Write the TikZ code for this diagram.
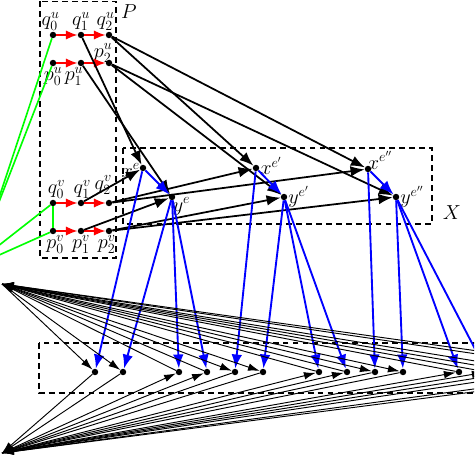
\documentclass[tikz,border=0pt]{standalone}
\usetikzlibrary{arrows.meta}
\tikzset{
  vtx/.style={circle,fill=black,inner sep=0pt,minimum size=5.5pt},
  lbl/.style={font=\fontsize{17}{19}\selectfont,inner sep=0.5pt},
  boxline/.style={line width=1.2pt,dash pattern=on 5pt off 3.5pt},
  redarr/.style={red,line width=1.5pt,-{Latex[length=10pt,width=8pt]}},
  blkarr/.style={line width=1.5pt,-{Latex[length=12pt,width=9pt]}},
  bluearr/.style={blue,line width=1.6pt,-{Latex[length=12pt,width=9pt]}},
  fanarr/.style={line width=0.8pt,-{Latex[length=10pt,width=6.5pt]}},
  greenline/.style={green,line width=1.4pt}
}
\begin{document}
\begin{tikzpicture}[x=0.3mm,y=-0.3mm]
  \useasboundingbox (0,0) rectangle (474,474);
  \clip (0,0) rectangle (474,474);

  % dashed boxes
  \draw[boxline] (40,1.5) rectangle (116,258);
  \node[lbl] (plabel) at (129,12) {$P$};
  \draw[boxline] (123,148) rectangle (432,224);
  \node[lbl] (xlabel) at (452,213) {$X$};
  \draw[boxline] (39,343) rectangle (1000,393);

  % the two paths of u and v
  \node[vtx,label={[lbl,xshift=-2pt]above:$q_0^u$}] (qu0) at (53,35) {};
  \node[vtx,label={[lbl]above:$q_1^u$}] (qu1) at (81,35) {};
  \node[vtx,label={[lbl,xshift=-3pt]above:$q_2^u$}] (qu2) at (109,35) {};
  \node[vtx,label={[lbl]below:$p_0^u$}] (pu0) at (53,63) {};
  \node[vtx,label={[lbl,xshift=-6pt]below:$p_1^u$}] (pu1) at (81,63) {};
  \node[vtx,label={[lbl,xshift=-5pt,yshift=-3pt]above:$p_2^u$}] (pu2) at (109,63) {};

  \node[vtx,label={[lbl,xshift=3pt]above:$q_0^v$}] (qv0) at (53,203) {};
  \node[vtx,label={[lbl,xshift=1pt]above:$q_1^v$}] (qv1) at (81,203) {};
  \node[vtx,label={[lbl,xshift=-5pt,yshift=4pt]above:$q_2^v$}] (qv2) at (109,203) {};
  \node[vtx,label={[lbl,xshift=2pt]below:$p_0^v$}] (pv0) at (53,231) {};
  \node[vtx,label={[lbl]below:$p_1^v$}] (pv1) at (81,231) {};
  \node[vtx,label={[lbl,xshift=-2pt]below:$p_2^v$}] (pv2) at (109,231) {};

  \foreach \s in {u,v} {
    \draw[redarr] (q\s0) -- (q\s1);
    \draw[redarr] (q\s1) -- (q\s2);
    \draw[redarr] (p\s0) -- (p\s1);
    \draw[redarr] (p\s1) -- (p\s2);
  }

  % green edges to the left
  \coordinate (gu) at (-10,225);
  \coordinate (gv) at (-30,268);
  \draw[greenline] (qu0) -- (gu);
  \draw[greenline] (pu0) -- (gu);
  \draw[greenline] (qv0) -- (gv);
  \draw[greenline] (pv0) -- (gv);
  \draw[greenline] (qv0) -- (pv0);

  % edge gadgets in X
  \node[vtx,label={[lbl,label distance=-1pt,yshift=-2pt]left:$x^{e}$}] (xe0) at (143,168) {};
  \node[vtx,label={[lbl,label distance=-3pt]below right:$y^{e}$}] (ye0) at (172,197) {};
  \node[vtx,label={[lbl,yshift=2pt]right:$x^{e'}$}] (xe1) at (256,168) {};
  \node[vtx,label={[lbl]right:$y^{e'}$}] (ye1) at (284,197) {};
  \node[vtx,label={[lbl,label distance=-4pt]above right:$x^{e''}$}] (xe2) at (368,169) {};
  \node[vtx,label={[lbl]right:$y^{e''}$}] (ye2) at (396,197) {};

  \foreach \a/\b in {qu1/xe0,pu1/ye0,qu2/xe1,qu2/xe2,pu2/ye1,pu2/ye2,
                     qv1/xe0,pv1/ye0,qv2/xe1,qv2/xe2,pv2/ye1,pv2/ye2}
    \draw[blkarr] (\a) -- (\b);

  % bottom row
  \foreach \k in {1,2,4,5,6,7,9,10,11,12,14,15,16,17,19,20}
    \node[vtx] (b\k) at ({95+28*(\k-1)},372) {};

  \foreach \g/\k in {0/1,1/6,2/11} {
    \draw[bluearr] (xe\g) -- (ye\g);
    \draw[bluearr] (xe\g) -- (b\k);
    \pgfmathtruncatemacro{\ka}{\k+1}
    \pgfmathtruncatemacro{\kb}{\k+3}
    \pgfmathtruncatemacro{\kc}{\k+4}
    \draw[bluearr] (ye\g) -- (b\ka);
    \draw[bluearr] (ye\g) -- (b\kb);
    \draw[bluearr] (ye\g) -- (b\kc);
  }

  \coordinate (lt) at (2,284);
  \coordinate (lb) at (2,453);
  \foreach \k in {1,2,6,7,11,12,16,17} {
    \draw[fanarr] (lt) -- (b\k);
    \draw[fanarr] (b\k) -- (lb);
  }
  \foreach \k in {4,5,9,10,14,15,19,20} {
    \draw[fanarr] (lb) -- (b\k);
    \draw[fanarr] (b\k) -- (lt);
  }
\end{tikzpicture}
\end{document}
